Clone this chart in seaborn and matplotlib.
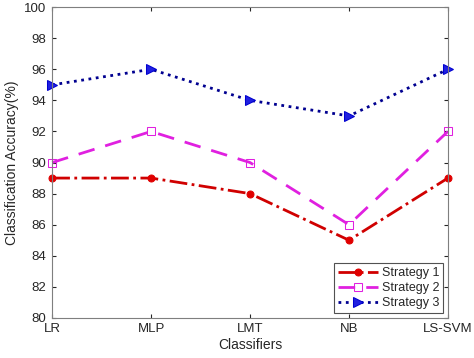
import pandas as pd
import seaborn as sns
import matplotlib.pyplot as plt

# Dados
classifiers = ['LR', 'MLP', 'LMT', 'NB', 'LS-SVM']
strategy1 = [89, 89, 88, 85, 89]
strategy2 = [90, 92, 90, 86, 92]
strategy3 = [95, 96, 94, 93, 96]

sns.set_style('white')
plt.rcParams['font.family'] = ['Liberation Sans', 'DejaVu Sans']

fig = plt.figure(figsize=(4.74, 3.58), dpi=100)
ax = fig.add_axes([0.110, 0.112, 0.835, 0.868])

pos = list(range(len(classifiers)))
styles = [
    ('Strategy 1', strategy1, dict(color='#d00000', linestyle='-.', marker='o', markersize=5,
                                   markerfacecolor='#e00000', markeredgecolor='#e00000')),
    ('Strategy 2', strategy2, dict(color='#e020e0', linestyle=(0, (6, 4)), marker='s', markersize=6,
                                   markerfacecolor='none', markeredgecolor='#e020e0')),
    ('Strategy 3', strategy3, dict(color='#000090', linestyle=':', marker='>', markersize=7,
                                   markerfacecolor='#2020e0', markeredgecolor='#0000d0')),
]
for name, vals, kw in styles:
    df = pd.DataFrame({'x': pos, 'y': vals})
    sns.lineplot(data=df, x='x', y='y', ax=ax, label=name, linewidth=2,
                 sort=False, clip_on=False, **kw)

ax.set_xlim(0, 4)
ax.set_ylim(80, 100)
ax.set_xticks(pos)
ax.set_xticklabels(classifiers)
ax.set_yticks(range(80, 101, 2))
ax.tick_params(direction='in', length=3, colors='#262626', labelsize=9.5,
               top=True, right=True, bottom=True, left=True, pad=4)
for sp in ax.spines.values():
    sp.set_color('#7f7f7f')
    sp.set_linewidth(0.8)
ax.set_xlabel('Classifiers', fontsize=10, color='#262626', labelpad=2)
ax.set_ylabel('Classification Accuracy(%)', fontsize=10, color='#262626', labelpad=4)

leg = ax.legend(loc='lower right', fontsize=9, frameon=True, fancybox=False,
                edgecolor='#262626', borderpad=0.3, labelspacing=0.25,
                handlelength=3.2, handletextpad=0.3, borderaxespad=0.4)
leg.get_frame().set_linewidth(0.8)

plt.savefig('out.png', dpi=100)
